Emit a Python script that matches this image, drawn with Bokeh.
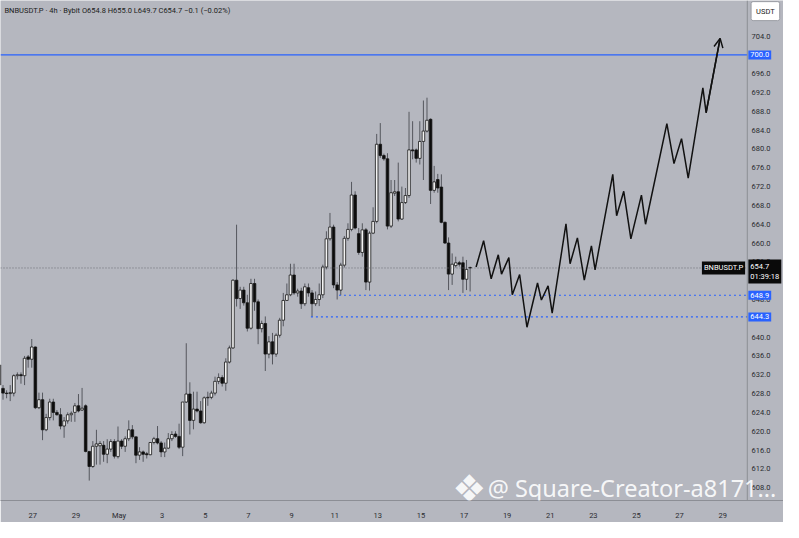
from bokeh.plotting import figure
from bokeh.models import Range1d, FixedTicker, Span, Label, Arrow, OpenHead, ColumnDataSource
from bokeh.core.properties import value
from bokeh.embed import file_html
from bokeh.resources import INLINE

# ---------------- data ----------------
# 4h candles, time in days since Apr 27 00:00
first_candle_day = -1.55
candle_step = 1.0 / 6.0

opens = [634.1, 629.1, 628.1, 628.0, 628.1, 631.8, 632.0, 631.8, 635.8, 635.3,
         637.9, 625.0, 626.7, 620.3, 622.9, 626.2, 624.0, 623.5, 621.1, 622.2,
         623.5, 624.0, 625.4, 624.5, 625.4, 615.7, 612.5, 616.8, 616.9, 617.0,
         615.1, 616.2, 617.8, 614.6, 617.9, 616.8, 618.4, 620.3, 618.8, 614.9,
         615.6, 615.2, 615.0, 617.6, 618.4, 617.5, 615.6, 616.4, 618.4, 619.4,
         618.9, 616.6, 626.2, 627.9, 622.3, 624.7, 624.3, 621.8, 627.1, 627.2,
         628.1, 630.6, 631.4, 630.2, 634.7, 637.7, 652.1, 648.2, 650.0, 647.3,
         641.9, 651.4, 647.5, 641.8, 642.9, 636.4, 639.0, 636.4, 640.4, 643.6,
         647.8, 649.0, 653.2, 649.4, 649.8, 647.1, 650.5, 649.4, 647.1, 648.0,
         649.0, 654.9, 660.9, 663.4, 651.1, 650.0, 655.3, 661.0, 662.9, 670.2,
         662.0, 658.0, 662.8, 651.7, 662.1, 664.6, 681.0, 678.6, 677.9, 663.6,
         670.6, 670.9, 665.1, 668.6, 670.1, 679.8, 679.8, 678.0, 681.6, 683.8,
         686.3, 671.2, 673.5, 671.9, 664.4, 660.0, 653.4, 655.2, 655.8, 655.8,
         652.3, 654.8]
highs = [634.6, 629.8, 628.7, 629.8, 632.1, 632.5, 632.5, 636.0, 636.2, 639.6,
         638.0, 628.2, 628.2, 623.7, 626.9, 626.9, 624.5, 624.9, 623.0, 624.0,
         624.2, 626.0, 627.9, 629.2, 625.7, 615.7, 617.9, 620.3, 617.9, 617.9,
         618.3, 618.3, 618.3, 621.0, 618.3, 618.9, 622.3, 621.3, 618.8, 616.6,
         615.9, 615.6, 617.7, 618.8, 621.1, 617.9, 617.6, 619.6, 620.0, 620.0,
         621.6, 626.2, 638.7, 630.4, 628.4, 628.4, 626.4, 627.4, 628.4, 628.6,
         631.6, 632.3, 631.9, 635.5, 638.2, 652.3, 663.9, 650.7, 650.7, 649.0,
         652.4, 652.4, 648.0, 643.5, 644.4, 640.2, 640.9, 640.8, 644.1, 649.4,
         651.4, 655.6, 655.6, 650.3, 650.5, 651.4, 651.4, 650.0, 649.7, 651.4,
         655.4, 662.5, 666.4, 663.9, 651.7, 655.8, 661.5, 664.2, 673.0, 671.0,
         663.2, 664.2, 663.2, 662.5, 667.6, 683.2, 685.5, 679.0, 679.1, 673.4,
         673.4, 677.1, 672.0, 671.7, 687.9, 685.9, 680.1, 685.9, 690.3, 690.9,
         686.5, 676.4, 674.7, 674.6, 664.6, 661.2, 657.8, 657.1, 656.2, 657.1,
         656.4, 655.0]
lows = [629.5, 626.7, 627.0, 626.4, 627.4, 631.0, 630.1, 629.8, 633.5, 633.5,
        624.7, 624.7, 618.1, 620.0, 622.3, 622.3, 623.3, 620.4, 618.6, 621.6,
        622.0, 622.0, 624.0, 624.3, 615.5, 609.5, 612.2, 612.9, 612.9, 613.5,
        613.2, 615.6, 614.2, 614.2, 616.2, 615.6, 617.9, 618.3, 613.2, 613.9,
        613.5, 614.2, 614.9, 617.2, 617.2, 614.5, 614.5, 616.2, 617.9, 618.6,
        616.2, 614.7, 626.0, 619.3, 620.4, 624.0, 621.6, 621.6, 625.4, 626.8,
        627.6, 630.0, 629.5, 628.6, 634.4, 637.5, 646.5, 646.0, 646.7, 641.2,
        641.6, 645.6, 638.5, 641.0, 632.8, 635.5, 634.2, 635.8, 639.9, 642.3,
        647.7, 648.7, 649.0, 648.6, 646.0, 646.6, 648.6, 644.3, 646.6, 646.6,
        648.3, 654.4, 660.5, 650.4, 648.0, 648.9, 654.8, 660.5, 662.5, 662.9,
        657.5, 657.1, 650.0, 649.9, 661.9, 664.2, 678.1, 677.5, 662.9, 663.2,
        670.0, 664.6, 664.9, 668.3, 669.6, 677.8, 677.1, 676.7, 673.4, 683.5,
        668.3, 670.7, 670.7, 664.2, 659.8, 650.0, 651.1, 654.8, 655.0, 649.4,
        650.0, 649.7]
closes = [629.8, 628.1, 628.0, 628.2, 631.8, 632.0, 631.8, 635.5, 635.3, 637.9,
          625.0, 626.7, 620.3, 622.9, 626.2, 624.0, 623.5, 621.1, 622.2, 623.5,
          623.8, 625.4, 624.3, 624.9, 615.7, 612.5, 616.8, 617.3, 617.4, 615.1,
          616.2, 617.8, 614.7, 617.9, 616.8, 618.4, 620.3, 618.8, 614.9, 615.6,
          615.1, 615.0, 617.6, 618.4, 617.5, 615.6, 616.4, 618.4, 619.3, 618.9,
          616.6, 626.2, 627.9, 622.3, 624.7, 624.3, 621.8, 627.1, 627.2, 628.1,
          630.6, 631.4, 630.2, 634.7, 637.7, 652.1, 648.2, 650.0, 647.3, 641.9,
          651.4, 647.5, 641.8, 642.9, 636.4, 639.0, 636.4, 640.4, 643.6, 647.8,
          649.0, 653.2, 649.4, 649.8, 647.1, 650.7, 649.4, 647.1, 648.0, 649.0,
          654.9, 660.9, 663.4, 651.1, 650.0, 655.3, 661.0, 662.9, 670.2, 663.2,
          658.0, 662.8, 651.7, 662.1, 664.6, 681.0, 678.6, 677.9, 663.6, 670.7,
          670.9, 665.1, 668.6, 670.1, 679.8, 679.6, 678.0, 681.6, 683.8, 686.1,
          671.2, 673.0, 671.7, 664.4, 660.0, 653.4, 655.5, 655.8, 655.5, 652.3,
          654.4, 654.7]

# hand-drawn projection path (day, price)
forecast_days = [20.56, 20.91, 21.26, 21.59, 21.74, 22.08, 22.24, 22.58, 22.92, 23.41,
                 23.59, 23.90, 24.09, 24.73, 24.92, 25.26, 25.58, 25.91, 26.08, 26.90,
                 27.08, 27.41, 27.74, 28.23, 28.42, 29.41, 29.74, 30.09, 30.40, 31.08,
                 31.23, 31.88]
forecast_prices = [654.9, 660.5, 652.4, 657.5, 653.4, 656.9, 649.0, 653.3, 642.1, 651.5,
                   647.9, 650.9, 645.1, 664.1, 655.6, 661.1, 652.1, 659.4, 654.3, 674.6,
                   665.8, 671.0, 660.9, 670.2, 664.0, 685.4, 676.9, 682.2, 673.8, 693.0,
                   687.7, 703.5]

resistance_level = 700.0
support_levels = [648.9, 644.3]
support_start_days = [14.2, 12.9]

price_ticks = [608, 612, 616, 620, 624, 628, 632, 636, 640, 644, 648, 652, 656, 660,
               664, 668, 672, 676, 680, 684, 688, 692, 696, 700, 704]
day_ticks = [0, 2, 4, 6, 8, 10, 12, 14, 16, 18, 20, 22, 24, 26, 28, 30, 32]
day_tick_labels = ["27", "29", "May", "3", "5", "7", "9", "11", "13", "15",
                   "17", "19", "21", "23", "25", "27", "29"]

symbol = "BNBUSDT.P"
countdown = "01:39:18"
watermark = "@ Square-Creator-a8171..."

# ---------------- figure ----------------
BG = "#b5b7bf"
AXC = "#8c8e95"
FONT = "Roboto"

x_lo, x_hi = -1.5, 34.82      # full width incl. price-scale strip
scale_x = 33.14               # price scale separator
y_lo, y_hi = 605.27, 711.56

p = figure(width=783, height=522, output_backend="svg", toolbar_location=None,
           x_range=Range1d(x_lo, x_hi), y_range=Range1d(y_lo, y_hi),
           y_axis_location=None, min_border_left=0, min_border_top=0,
           min_border_right=0, min_border_bottom=14)
p.background_fill_color = BG
p.border_fill_color = BG
p.outline_line_color = None
p.xgrid.visible = False
p.ygrid.visible = False

xax = p.xaxis[0]
xax.ticker = FixedTicker(ticks=day_ticks)
xax.major_label_overrides = {d: s for d, s in zip(day_ticks, day_tick_labels)}
xax.major_tick_line_color = None
xax.minor_tick_line_color = None
xax.axis_line_color = AXC
xax.major_label_text_font = FONT
xax.major_label_text_font_size = "7.5px"
xax.major_label_text_color = "#2a2b2f"
xax.major_label_standoff = 4

# price scale strip
p.add_layout(Span(location=scale_x, dimension="height", line_color=AXC, line_width=1))
p.text(x=[scale_x + 0.2] * len(price_ticks), y=price_ticks,
       text=[f"{v:.1f}" for v in price_ticks], text_font=value(FONT), text_font_size="7.5px",
       text_color="#2a2b2f", text_baseline="middle")

# ---------------- candles ----------------
n = len(opens)
days = [first_candle_day + i * candle_step for i in range(n)]
tops = [max(o, c) for o, c in zip(opens, closes)]
bots = [min(o, c) for o, c in zip(opens, closes)]
fills = ["#f4f4f4" if c >= o else "#0c0c0c" for o, c in zip(opens, closes)]
src = ColumnDataSource(dict(day=days, high=highs, low=lows, top=tops, bottom=bots, fill=fills))

p.segment(x0="day", y0="low", x1="day", y1="high", source=src, line_color="#55575e", line_width=1)
p.vbar(x="day", width=candle_step * 0.72, top="top", bottom="bottom", source=src,
       fill_color="fill", line_color="#151515", line_width=0.8)

# ---------------- levels ----------------
p.segment(x0=[x_lo], y0=[resistance_level], x1=[scale_x], y1=[resistance_level],
          line_color="#2962ff", line_width=1.2)
p.segment(x0=[x_lo], y0=[closes[-1]], x1=[scale_x], y1=[closes[-1]],
          line_color="#6a6c72", line_width=1, line_dash="1 2")
p.segment(x0=support_start_days, y0=support_levels, x1=[scale_x] * len(support_levels), y1=support_levels,
          line_color="#2962ff", line_width=1.2, line_dash="2 3")

# ---------------- projection ----------------
p.line(forecast_days, forecast_prices, line_color="#111111", line_width=1.5)
p.add_layout(Arrow(end=OpenHead(size=9, line_width=1.5, line_color="#111111"),
                   x_start=forecast_days[-2], y_start=forecast_prices[-2],
                   x_end=forecast_days[-1], y_end=forecast_prices[-1],
                   line_width=1.5, line_color="#111111"))

# ---------------- texts ----------------
header = (f"{symbol} · 4h · Bybit  O{opens[-1]:.1f} H{highs[-1]:.1f} "
          f"L{lows[-1]:.1f} C{closes[-1]:.1f} −0.1 (−0.02%)")
p.add_layout(Label(x=-1.32, y=709.5, text=header, text_font=FONT, text_font_size="7.5px",
                   text_color="#1b1c20", text_baseline="middle"))

ax_x = scale_x + 0.05
p.add_layout(Label(x=33.98, y=709.3, text="USDT", text_font=FONT, text_font_size="7.5px",
                   text_color="#222", text_align="center", text_baseline="middle",
                   background_fill_color="white", border_line_color="#9a9ca3",
                   padding=5, border_radius=2))
p.add_layout(Label(x=ax_x, y=resistance_level, text=f"{resistance_level:.1f}", text_font=FONT,
                   text_font_size="7.5px", text_color="white", text_baseline="middle",
                   background_fill_color="#2962ff", padding=2))
for lv in support_levels:
    p.add_layout(Label(x=ax_x, y=lv, text=f"{lv:.1f}", text_font=FONT,
                       text_font_size="7.5px", text_color="white", text_baseline="middle",
                       background_fill_color="#2962ff", padding=2))
p.add_layout(Label(x=ax_x, y=closes[-1] - 0.75, text=f"{closes[-1]:.1f}\n{countdown}", text_font=FONT,
                   text_font_size="7.5px", text_color="white", text_baseline="middle",
                   background_fill_color="#0a0a0a", padding=2))
p.add_layout(Label(x=scale_x - 0.1, y=closes[-1], text=symbol, text_font=FONT,
                   text_font_size="7.5px", text_color="white", text_baseline="middle", text_align="right",
                   background_fill_color="#0a0a0a", padding=2))

# watermark
p.add_layout(Label(x=20.25, y=607.8, text="❖", text_font="DejaVu Sans", text_font_size="38px",
                   text_color="white", text_alpha=0.9, text_align="center", text_baseline="middle"))
p.add_layout(Label(x=21.1, y=607.9, text=watermark, text_font="Noto Sans", text_font_size="23.5px",
                   text_color="white", text_alpha=0.9, text_baseline="middle"))

open("out.html", "w").write(file_html(p, INLINE))
